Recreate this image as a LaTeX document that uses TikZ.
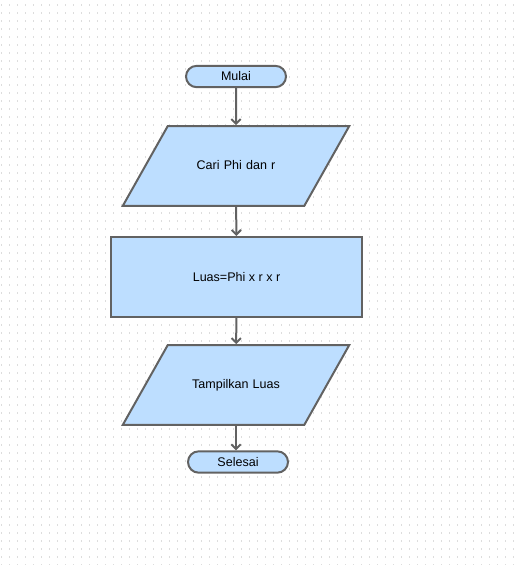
\documentclass[tikz,border=0pt]{standalone}
\usepackage{fontspec}
\setmainfont{Liberation Sans}
\usetikzlibrary{shapes.geometric,shapes.misc,arrows.meta}
\definecolor{boxfill}{HTML}{BDDEFF}
\definecolor{boxline}{HTML}{626262}
\definecolor{griddot}{HTML}{DDDDDD}
\tikzset{
  boxtext/.style={font=\fontsize{9.4}{10}\selectfont},
  terminal/.style={rounded rectangle, draw=boxline, fill=boxfill, line width=1.5pt,
    minimum width=75pt, minimum height=16pt, inner sep=0pt, boxtext},
  inout/.style={trapezium, trapezium left angle=60.6, trapezium right angle=119.4,
    draw=boxline, fill=boxfill, line width=1.5pt, boxtext,
    text width=102.5pt, align=center, text height=6.5pt, text depth=2pt,
    inner xsep=0pt, inner ysep=25.6pt},
  process/.style={rectangle, draw=boxline, fill=boxfill, line width=1.5pt,
    minimum width=188pt, minimum height=60pt, inner sep=0pt, boxtext},
  flow/.style={draw=boxline, line width=1.5pt, -{Straight Barb[length=3.5pt,width=7pt]}}
}
\begin{document}
\begin{tikzpicture}[x=0.75pt,y=-0.75pt]
\useasboundingbox (0,0) rectangle (514,565);
% dotted background
\foreach \i in {1,9,...,513}
  \foreach \j in {4,12,...,564}
    \fill[griddot] (\i,\j) rectangle ++(1,1.5);
% flowchart
\node[terminal] (mulai) at (236,76.5) {Mulai};
\node[inout] (input) at (236,166) {Cari Phi dan r};
\node[process] (hitung) at (236.5,277) {Luas=Phi x r x r};
\node[inout] (output) at (236,385) {Tampilkan Luas};
\node[terminal] (selesai) at (238,462) {Selesai};
\draw[flow] (mulai) -- (input);
\draw[flow] (input) -- (hitung);
\draw[flow] (hitung) -- (output);
\draw[flow] (output.south) -- (output.south |- selesai.north);
\end{tikzpicture}
\end{document}
